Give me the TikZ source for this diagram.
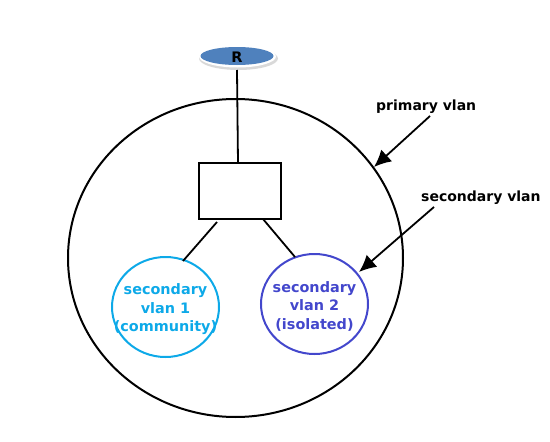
\documentclass[tikz,border=0pt]{standalone}
\usepackage{fontspec}
\setmainfont{DejaVu Sans}
\usetikzlibrary{shapes.geometric,arrows.meta}
\definecolor{capcyan}{HTML}{0DA9E8}
\definecolor{capblue}{HTML}{4347CC}
\definecolor{capfill}{HTML}{4F81BD}
\tikzset{
 ell/.style={ellipse,draw,inner sep=0pt,line width=2pt},
 lbl/.style={font=\bfseries\fontsize{14}{18}\selectfont,inner sep=0pt,align=center},
 lblc/.style={font=\bfseries\fontsize{14.4}{18.5}\selectfont,inner sep=0pt,align=center},
 conn/.style={line width=1.8pt,black},
 arr/.style={line width=1.8pt,black,-{Latex[length=17pt,width=16pt]},shorten >=0pt}
}
\begin{document}
\begin{tikzpicture}[x=1pt,y=-1pt]
\useasboundingbox (0,0) rectangle (550,442);
% router
\node[ellipse,fill=black!15,inner sep=0,minimum width=79pt,minimum height=23pt] (rs) at (238.5,58.5) {};
\node[ellipse,fill=white,inner sep=0,minimum width=77pt,minimum height=22pt] (rh) at (237.5,56.5) {};
\node[ellipse,fill=capfill,inner sep=0,minimum width=73pt,minimum height=18pt] (r) at (237,56) {};
\node[font=\bfseries\fontsize{14.5}{16}\selectfont,inner sep=0] (rt) at (237,57) {R};
% shapes
\node[ell,minimum width=335pt,minimum height=318pt] (outer) at (235.5,258) {};
\node[draw,line width=1.9pt,minimum width=82pt,minimum height=56pt,inner sep=0,rectangle] (box) at (240,191) {};
\node[ell,draw=capcyan,minimum width=107pt,minimum height=100pt] (c1) at (165.5,307) {};
\node[ell,draw=capblue,minimum width=107pt,minimum height=100pt] (c2) at (314.5,304) {};
\node[lblc,text=capcyan] (t1) at (165.5,309.5) {secondary\\vlan 1\\(community)};
\node[lblc,text=capblue] (t2) at (314.5,306) {secondary\\vlan 2\\(isolated)};
\node[lbl,anchor=west] (prim) at (376,107) {primary vlan};
\node[lbl,anchor=west] (sec) at (421,198) {secondary vlan};
% connector ends
\coordinate (b1) at (217,222);
\coordinate (b2) at (263,219);
\coordinate (p0) at (430,116);
\coordinate (s0) at (434,207);
\coordinate (pe) at (374,167);
\coordinate (se) at (359,272);
\coordinate (rb) at (237,70);
\coordinate (bt) at (238,163);
\coordinate (c1t) at (183,261);
\coordinate (c2t) at (295,257);
\draw[conn] (rb) -- (bt);
\draw[conn] (b1) -- (c1t);
\draw[conn] (b2) -- (c2t);
\draw[arr] (p0) -- (pe);
\draw[arr] (s0) -- (se);
\end{tikzpicture}
\end{document}
